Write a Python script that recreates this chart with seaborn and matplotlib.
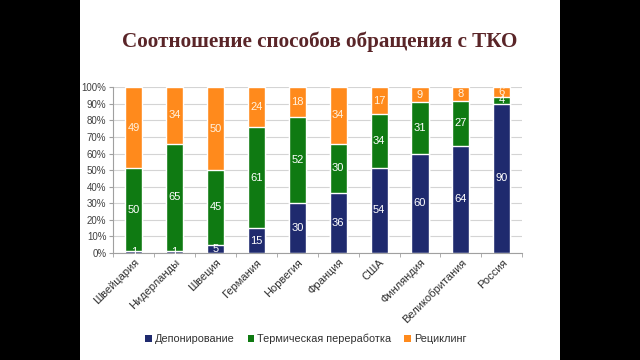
import numpy as np
import pandas as pd
import matplotlib
matplotlib.use("Agg")
import matplotlib.pyplot as plt
import seaborn as sns
from matplotlib.patches import Rectangle, Patch
from matplotlib.ticker import FixedLocator, PercentFormatter

countries = ["Швейцария", "Нидерланды", "Швеция", "Германия", "Норвегия",
             "Франция", "США", "Финляндия", "Великобритания", "Россия"]
landfill = [1, 1, 5, 15, 30, 36, 54, 60, 64, 90]
thermal = [50, 65, 45, 61, 52, 30, 34, 31, 27, 4]
recycling = [49, 34, 50, 24, 18, 34, 17, 9, 8, 6]

series_names = ["Депонирование", "Термическая переработка", "Рециклинг"]
colors = ["#1f2a6e", "#0f7a12", "#ff8a1c"]

sns.set_style("white")
plt.rcParams["font.family"] = ["Liberation Sans", "DejaVu Sans"]

# 100% stacked: normalise each country to its total
raw = np.array([landfill, thermal, recycling], dtype=float)
share = raw / raw.sum(axis=0) * 100
cum = np.cumsum(share, axis=0)

fig = plt.figure(figsize=(6.4, 3.6), dpi=100)
fig.patch.set_facecolor("black")
fig.patches.append(Rectangle((0.125, 0), 0.75, 1, transform=fig.transFigure,
                             facecolor="white", edgecolor="none", zorder=-10))

ax = fig.add_axes([0.177, 0.297, 0.639, 0.461])
ax.set_zorder(1)
ax.set_facecolor("white")

# draw tallest cumulative first so lower segments sit on top
for i in [2, 1, 0]:
    df = pd.DataFrame({"country": countries, "value": cum[i]})
    sns.barplot(data=df, x="country", y="value", order=countries,
                color=colors[i], saturation=1, width=0.42, ax=ax, zorder=2)

label_colors = ["white", "white", "#fff2e0"]
for i in range(3):
    bottoms = cum[i] - share[i]
    for j in range(len(countries)):
        ax.text(j, bottoms[j] + share[i][j] / 2, f"{int(raw[i][j])}",
                ha="center", va="center", color=label_colors[i],
                fontsize=8, zorder=3)

ax.set_ylim(0, 100)
ax.set_xlim(-0.5, len(countries) - 0.5)
ax.yaxis.set_major_locator(FixedLocator(np.arange(0, 101, 10)))
ax.yaxis.set_major_formatter(PercentFormatter(decimals=0))
ax.grid(axis="y", color="#d4d4d4", linewidth=0.8, zorder=0)
ax.set_axisbelow(True)
ax.set_xlabel("")
ax.set_ylabel("")

for side in ["top", "right"]:
    ax.spines[side].set_visible(False)
for side in ["left", "bottom"]:
    ax.spines[side].set_color("#a0a0a0")
    ax.spines[side].set_linewidth(0.8)

ax.tick_params(axis="y", labelsize=7, colors="#404040", length=3,
               color="#a0a0a0", left=True, pad=2)
ax.tick_params(axis="x", which="major", length=0, labelsize=8,
               colors="#303030", pad=3)
ax.xaxis.set_minor_locator(FixedLocator(np.arange(-0.5, len(countries), 1)))
ax.tick_params(axis="x", which="minor", length=3, color="#a0a0a0",
               bottom=True)
plt.setp(ax.get_xticklabels(), rotation=45, ha="right",
         rotation_mode="anchor")

fig.text(0.5, 0.883, "Соотношение способов обращения с ТКО",
         ha="center", va="center", fontsize=15.2, fontweight="bold",
         family=["Liberation Serif", "DejaVu Serif"], color="#5a2528")

handles = [Patch(facecolor=c, edgecolor="none") for c in colors]
fig.legend(handles, series_names, loc="center", ncol=3,
           bbox_to_anchor=(0.478, 0.058), frameon=False, fontsize=7.8,
           handlelength=0.6, handleheight=0.6, handletextpad=0.3,
           columnspacing=1.2, labelcolor="#303030")

fig.savefig("out.png", dpi=100, facecolor=fig.get_facecolor())
